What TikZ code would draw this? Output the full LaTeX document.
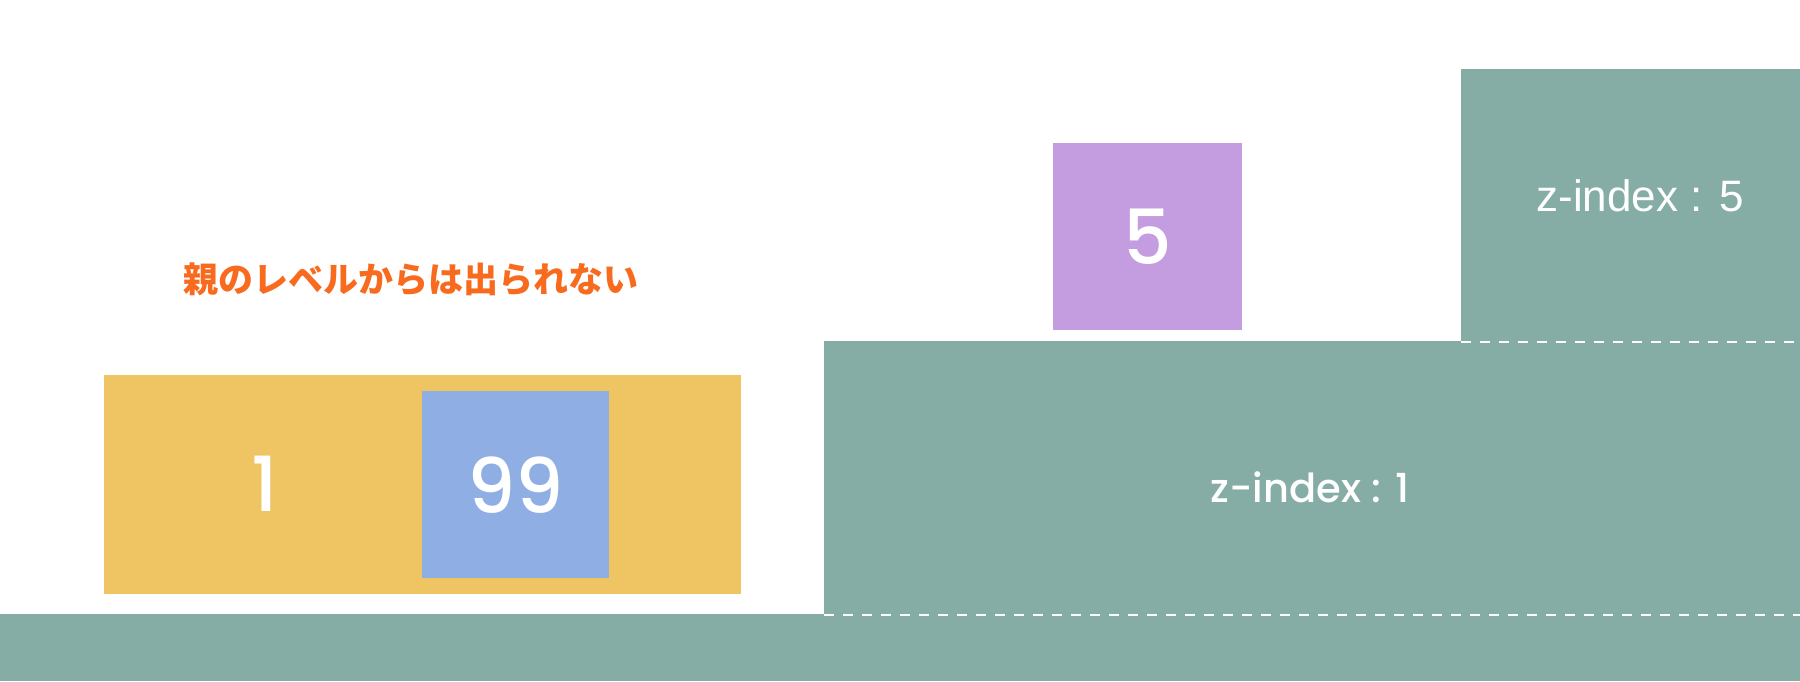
\documentclass[tikz,border=0pt]{standalone}
\usepackage{fontspec}
\setmainfont{Liberation Sans}
\newfontfamily\popfont{Poppins Medium}
\newfontfamily\jpfont{Noto Sans CJK JP}
\definecolor{layerteal}{HTML}{85ADA5}
\definecolor{parentyellow}{HTML}{EFC563}
\definecolor{childblue}{HTML}{8EAEE4}
\definecolor{boxpurple}{HTML}{C49DE1}
\definecolor{noteorange}{HTML}{F86B1E}
\tikzset{
  layer/.style={fill=layerteal,inner sep=0pt,anchor=north west},
  card/.style={inner sep=0pt,anchor=north west,text=white,font=\popfont\fontsize{38}{40}\selectfont},
  zlabel/.style={text=white,font=\popfont\fontsize{20}{22}\selectfont},
  edge/.style={white,line width=1pt,dash pattern=on 5pt off 4.5pt},
}
\begin{document}
\begin{tikzpicture}[x=0.5pt,y=-0.5pt, line join=round]
		\useasboundingbox (0,0) rectangle (1800,681);
		\node[layer,minimum width=900pt,minimum height=33.5pt] (base) at (0,614) {};
		\node[layer,minimum width=488pt,minimum height=136.5pt] (mid) at (824,341) {};
		\node[layer,minimum width=169.5pt,minimum height=136pt] (top) at (1461,69) {};
		\node[card,fill=parentyellow,minimum width=318.5pt,minimum height=109.5pt] (parent) at (104,375) {};
		\node[card,fill=childblue,minimum width=93.5pt,minimum height=93.5pt] (child) at (422,391) {99};
		\node[card,fill=boxpurple,minimum width=94.5pt,minimum height=93.5pt] (five) at (1053,143) {5};
		\node[text=white,font=\popfont\fontsize{38}{40}\selectfont] (one) at (265,484) {1};
		\node[zlabel] (zone) at (1310,487) {z-index : 1};
		\node[text=white,font=\fontsize{22}{24}\selectfont] (zfive) at (1640,196) {z-index : 5};
		\node[text=noteorange,font=\jpfont\bfseries\fontsize{17.5}{19}\selectfont] (note) at (411,279) {親のレベルからは出られない};
		\draw[edge] (mid.south west)--(mid.south east);
		\draw[edge] (top.south west)--(top.south east);
\end{tikzpicture}
\end{document}
